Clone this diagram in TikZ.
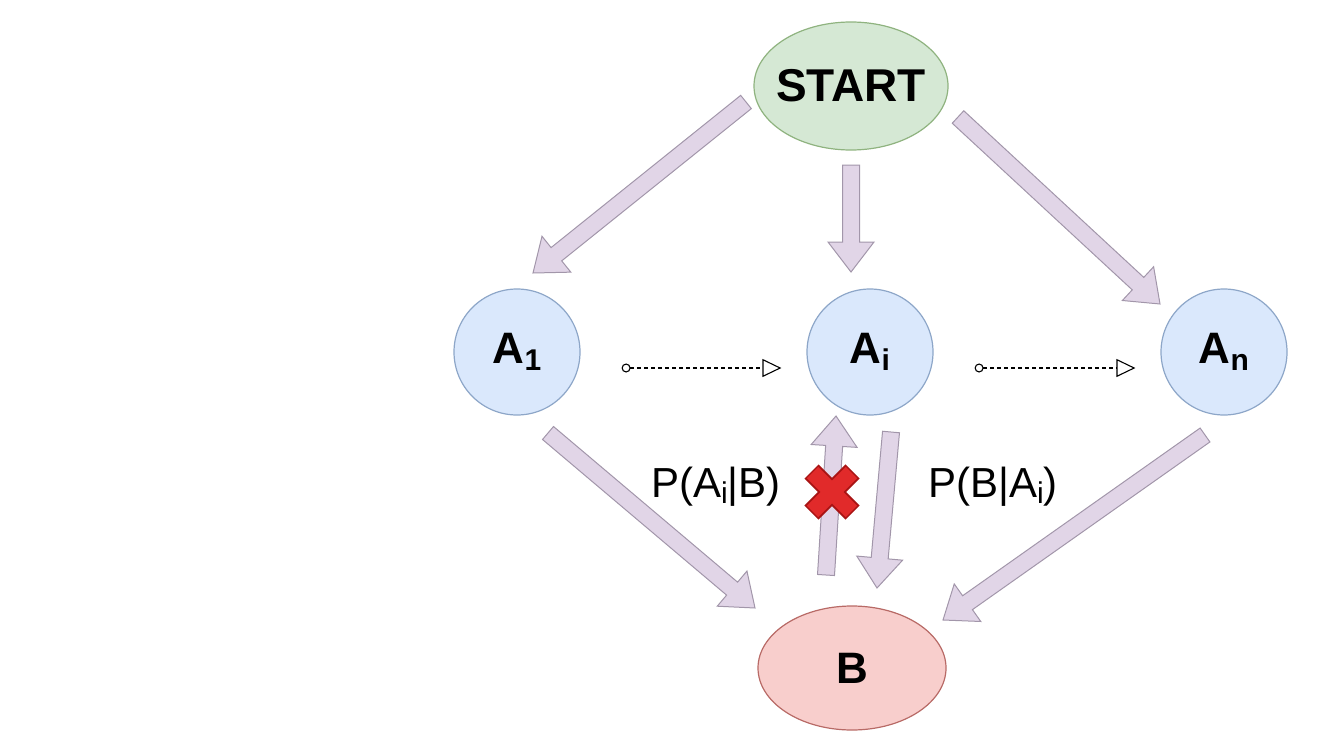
\documentclass[tikz,border=0pt]{standalone}
\usepackage{fontspec}
\setmainfont{Liberation Sans}
\usetikzlibrary{shapes.geometric,arrows.meta,calc}

\definecolor{startfill}{HTML}{D5E8D4}
\definecolor{startline}{HTML}{8FB37F}
\definecolor{eventfill}{HTML}{DAE8FC}
\definecolor{eventline}{HTML}{8DA6C8}
\definecolor{resultfill}{HTML}{F8CECC}
\definecolor{resultline}{HTML}{B86A66}
\definecolor{arrowfill}{HTML}{E1D5E7}
\definecolor{arrowline}{HTML}{A296AA}
\definecolor{crossred}{HTML}{E12A2A}
\definecolor{crossdark}{HTML}{A81414}

\newcommand{\lowidx}[1]{\raisebox{-0.3ex}{\fontsize{30}{30}\selectfont #1}}

% fat arrow between two points, drawn as one outline
\newcommand{\blockarrow}[2]{%
    \path (#1) coordinate (ba-s) (#2) coordinate (ba-e)
        ($(ba-e)!30pt!(ba-s)$) coordinate (ba-c);
    \filldraw[block arrow]
        ($(ba-s)!8.5pt!90:(ba-e)$) -- ($(ba-c)!8.5pt!90:(ba-e)$)
        -- ($(ba-c)!23pt!90:(ba-e)$) -- (ba-e)
        -- ($(ba-c)!23pt!-90:(ba-e)$) -- ($(ba-c)!8.5pt!-90:(ba-e)$)
        -- ($(ba-s)!8.5pt!-90:(ba-e)$) -- cycle;
}

\tikzset{
    start node/.style={ellipse,draw=startline,fill=startfill,line width=1.2pt,
        inner xsep=-20pt,inner ysep=0pt,
        minimum width=194pt,minimum height=128pt,font=\bfseries\fontsize{46}{50}\selectfont},
    event node/.style={circle,draw=eventline,fill=eventfill,line width=1.2pt,
        minimum size=126pt,inner sep=0pt,font=\bfseries\fontsize{44}{48}\selectfont},
    result node/.style={ellipse,draw=resultline,fill=resultfill,line width=1.2pt,
        minimum width=188pt,minimum height=124pt,font=\bfseries\fontsize{44}{48}\selectfont},
    block arrow/.style={draw=arrowline,fill=arrowfill,line width=1pt,line join=miter},
    chain arrow/.style={dashed,dash pattern=on 4pt off 3pt,line width=1.1pt,
        {Circle[open,length=9pt,width=9pt]}-{Triangle[open,length=19pt,width=18pt]},
        shorten <=41pt,shorten >=25pt},
    prob label/.style={anchor=base,font=\fontsize{42}{46}\selectfont}
    }

\begin{document}
\begin{tikzpicture}[x=1pt,y=-1pt]
    \useasboundingbox (0,0) rectangle (1324,744);

    \node(start)[start node] at (851,86) {START};
    \node(a1)[event node] at (517,352) {A\lowidx{1}};
    \node(ai)[event node] at (870,352) {A\lowidx{i}};
    \node(an)[event node] at (1224,352) {A\lowidx{n}};
    \node(b)[result node] at (852,668) {B};

    % START to every A
    \blockarrow{$(start)+(-105,16)$}{$(a1)+(16,-79)$}
    \blockarrow{$(start)+(0,79)$}{$(ai)+(-19,-80)$}
    \blockarrow{$(start)+(107,31)$}{$(an)+(-64,-48)$}

    % every A to B, and back up
    \blockarrow{$(a1)+(31,81)$}{$(b)+(-97,-60)$}
    \blockarrow{$(an)+(-19,83)$}{$(b)+(91,-48)$}
    \blockarrow{$(ai)+(21,80)$}{$(b)+(25,-80)$}
    \blockarrow{$(b)+(-26,-93)$}{$(ai)+(-34,64)$}

    \draw[chain arrow] ([yshift=-16pt]a1.east) -- ([yshift=-16pt]ai.west);
    \draw[chain arrow] ([yshift=-16pt]ai.east) -- ([yshift=-16pt]an.west);

    \node(pab)[prob label] at (716,497) {P(A\lowidx{i}|B)};
    \node(pba)[prob label] at (993,497) {P(B|A\lowidx{i})};

    % the cross over the upward arrow
    \begin{scope}[shift={(832,492)}]
        \foreach \a in {45,135}
            \draw[line width=20pt,crossdark] (\a:29) -- (\a+180:29);
        \foreach \a in {45,135}
            \draw[line width=16pt,crossred] (\a:27.5) -- (\a+180:27.5);
    \end{scope}
\end{tikzpicture}
\end{document}
